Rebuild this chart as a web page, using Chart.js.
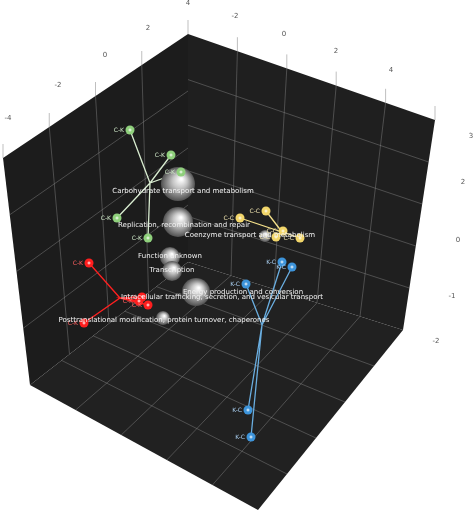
<!DOCTYPE html>
<html><head><meta charset="utf-8">
<script src="https://cdn.jsdelivr.net/npm/chart.js@4.4.1/dist/chart.umd.min.js"></script>
<style>html,body{margin:0;padding:0;background:#fff}#wrap{width:474px;height:513px}</style>
</head><body><div id="wrap"><canvas id="c"></canvas></div>
<script>
// values (projected plane coordinates)
const categories = ['Carbohydrate transport and metabolism','Replication, recombination and repair','Function unknown','Transcription','Coenzyme transport and metabolism','Energy production and conversion','Intracellular trafficking, secretion, and vesicular transport','Posttranslational modification, protein turnover, chaperones'];
const sphereX = [178, 178, 170, 172, 265, 196, 168, 163];
const sphereY = [184, 222, 257, 271, 236, 292, 298, 318];
const sphereR = [17, 15, 10, 10, 6, 14, 0, 7];
const labelX = [183, 184, 170, 172, 250, 243, 222, 164];
const labelY = [191, 225, 256, 270, 235, 292, 297, 320];

const greenCenter = {x: 150, y: 183};
const greenX = [130, 171, 181, 117, 148];
const greenY = [130, 155, 172, 218, 238];
const greenLab = ['C-K','C-K','C-K','C-K','C-K'];
const yellowCenter = {x: 282, y: 232};
const yellowX = [240, 266, 283, 276, 300];
const yellowY = [218, 211, 231, 237, 238];
const yellowLab = ['C-C','C-C','C-C','C-C','C-C'];
const blueCenter = {x: 262, y: 325};
const blueX = [282, 292, 246, 248, 251];
const blueY = [262, 267, 284, 410, 437];
const blueLab = ['K-C','K-C','K-C','K-C','K-C'];
const redCenter = {x: 120, y: 298};
const redX = [89, 142, 148, 139, 84];
const redY = [263, 297, 305, 301, 323];
const redLab = ['C-K','C-K','C-K','C-K','C-K'];

const tickLabels = [
  {t:'-4',x:8,y:118},{t:'-2',x:58,y:85},{t:'0',x:105,y:55},{t:'2',x:148,y:28},{t:'4',x:188,y:3},
  {t:'-2',x:235,y:16},{t:'0',x:284,y:34},{t:'2',x:336,y:51},{t:'4',x:391,y:70},
  {t:'3',x:471,y:136},{t:'2',x:463,y:182},{t:'0',x:458,y:240},{t:'-1',x:452,y:296},{t:'-2',x:436,y:341}
];

function star(c, xs, ys) {
  const d = [];
  xs.forEach((x, i) => { d.push({x: c.x, y: c.y}); d.push({x: x, y: ys[i]}); });
  return d;
}
function pts(xs, ys) { return xs.map((x, i) => ({x: x, y: ys[i]})); }

const groups = [
  {xs: greenX, ys: greenY, c: greenCenter, lab: greenLab, line: '#d8ecd0', fill: '#8fd07c', text: '#cfe8c8'},
  {xs: yellowX, ys: yellowY, c: yellowCenter, lab: yellowLab, line: '#f4e08a', fill: '#f2d66a', text: '#f0e4b0'},
  {xs: blueX, ys: blueY, c: blueCenter, lab: blueLab, line: '#6aaee0', fill: '#3d94da', text: '#a8cdee'},
  {xs: redX, ys: redY, c: redCenter, lab: redLab, line: '#ff2020', fill: '#ff1e1e', text: '#ff6060'}
];

function dotFill(col) {
  return ctx => {
    const ch = ctx.chart, ds = ch.data.datasets[ctx.datasetIndex];
    if (!ch.chartArea || !ds.data[ctx.dataIndex]) return col;
    const p = ds.data[ctx.dataIndex];
    const px = ch.scales.x.getPixelForValue(p.x), py = ch.scales.y.getPixelForValue(p.y);
    const g = ch.ctx.createRadialGradient(px, py, 0, px, py, 4.5);
    g.addColorStop(0, '#ffffff'); g.addColorStop(0.45, col); g.addColorStop(1, col);
    return g;
  };
}

const datasets = [];
groups.forEach(g => {
  datasets.push({data: star(g.c, g.xs, g.ys), showLine: true, borderColor: g.line, borderWidth: 1.3, pointRadius: 0, order: 3});
  datasets.push({data: pts(g.xs, g.ys), labels: g.lab, textColor: g.text, pointRadius: 4.5, borderWidth: 0,
    backgroundColor: dotFill(g.fill), order: 1});
});

function sphereFill(ctx) {
  const ch = ctx.chart, i = ctx.dataIndex;
  if (!ch.chartArea) return '#aaa';
  const px = ch.scales.x.getPixelForValue(sphereX[i]), py = ch.scales.y.getPixelForValue(sphereY[i]);
  const r = sphereR[i] || 1;
  const g = ch.ctx.createRadialGradient(px + r * 0.2, py - r * 0.3, r * 0.05, px, py, r);
  g.addColorStop(0, '#ffffff'); g.addColorStop(0.4, '#c4c4c4'); g.addColorStop(1, '#505050');
  return g;
}
datasets.push({data: pts(sphereX, sphereY), pointRadius: sphereR, backgroundColor: sphereFill, borderWidth: 0, order: 2});

const box = {
  id: 'box',
  beforeDatasetsDraw(chart) {
    const c = chart.ctx, sx = chart.scales.x, sy = chart.scales.y;
    const P = (x, y) => [sx.getPixelForValue(x), sy.getPixelForValue(y)];
    const path = pp => { c.beginPath(); pp.forEach((p, k) => { const q = P(p[0], p[1]); k ? c.lineTo(q[0], q[1]) : c.moveTo(q[0], q[1]); }); c.closePath(); };
    const line = (a, b) => { const p = P(a[0], a[1]), q = P(b[0], b[1]); c.beginPath(); c.moveTo(p[0], p[1]); c.lineTo(q[0], q[1]); c.stroke(); };
    const lerp = (a, b, t) => [a[0] + (b[0] - a[0]) * t, a[1] + (b[1] - a[1]) * t];
    const TL = [3, 158], TB = [188, 34], TR = [435, 120], C = [188, 262], BR = [403, 330], BL = [30, 385], F = [258, 510];
    const faces = [
      {pp: [TL, TB, C, BL], col: '#1c1c1c', n: 4, g: t => [[lerp(TL, TB, t), lerp(BL, C, t)], [lerp(TL, BL, t), lerp(TB, C, t)]]},
      {pp: [TB, TR, BR, C], col: '#1f1f1f', n: 5, g: t => [[lerp(TB, TR, t), lerp(C, BR, t)], [lerp(TB, C, t), lerp(TR, BR, t)]]},
      {pp: [C, BR, F, BL], col: '#212121', n: 5, g: t => [[lerp(C, BR, t), lerp(BL, F, t)], [lerp(C, BL, t), lerp(BR, F, t)]]}
    ];
    c.save();
    faces.forEach(f => {
      path(f.pp); c.fillStyle = f.col; c.fill();
      c.save(); path(f.pp); c.clip();
      c.strokeStyle = 'rgba(150,150,150,0.5)'; c.lineWidth = 0.8;
      for (let k = 1; k < f.n; k++) f.g(k / f.n).forEach(s => line(s[0], s[1]));
      c.restore();
    });
    // tick stubs above the top edges
    c.strokeStyle = 'rgba(120,120,120,0.6)'; c.lineWidth = 0.8;
    for (let k = 0; k <= 4; k++) { const p = lerp(TL, TB, k / 4); line(p, [p[0], p[1] - 14]); }
    for (let k = 1; k <= 5; k++) { const p = lerp(TB, TR, k / 5); line(p, [p[0], p[1] - 14]); }
    c.fillStyle = '#555'; c.font = '7px "DejaVu Sans"'; c.textAlign = 'center'; c.textBaseline = 'middle';
    tickLabels.forEach(t => { const p = P(t.x, t.y); c.fillText(t.t, p[0], p[1]); });
    c.restore();
  },
  afterDatasetsDraw(chart) {
    const c = chart.ctx, sx = chart.scales.x, sy = chart.scales.y;
    c.save(); c.textBaseline = 'middle';
    chart.data.datasets.forEach(ds => {
      if (!ds.labels) return;
      c.font = '6px "DejaVu Sans"'; c.textAlign = 'right'; c.fillStyle = ds.textColor;
      ds.data.forEach((p, i) => c.fillText(ds.labels[i], sx.getPixelForValue(p.x) - 6, sy.getPixelForValue(p.y)));
    });
    c.font = '7px "DejaVu Sans"'; c.textAlign = 'center'; c.fillStyle = '#f2f2f2';
    categories.forEach((n, i) => c.fillText(n, sx.getPixelForValue(labelX[i]), sy.getPixelForValue(labelY[i])));
    c.restore();
  }
};

new Chart(document.getElementById('c'), {
  type: 'scatter',
  data: {datasets: datasets},
  options: {
    responsive: true, maintainAspectRatio: false, animation: false,
    layout: {padding: 0, autoPadding: false},
    plugins: {legend: {display: false}, tooltip: {enabled: false}},
    scales: {
      x: {type: 'linear', min: 0, max: 474, display: false},
      y: {type: 'linear', min: 0, max: 513, reverse: true, display: false}
    }
  },
  plugins: [box]
});
</script></body></html>
